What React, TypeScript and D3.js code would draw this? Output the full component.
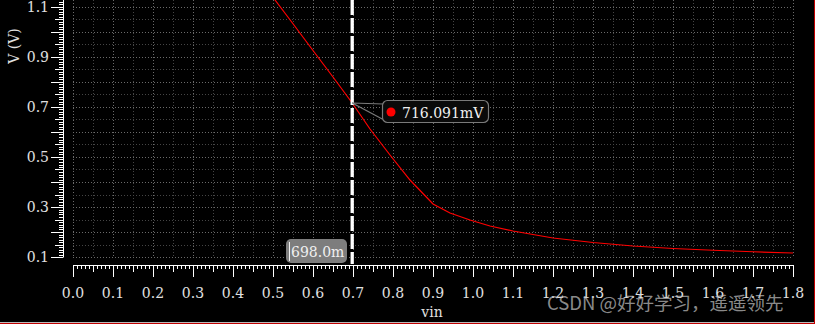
import React from "react";
import * as d3 from "d3";

const vin = [0.48, 0.505, 0.55, 0.6, 0.65, 0.698, 0.7425, 0.7925, 0.8425, 0.9, 0.9425, 0.9925, 1.0425, 1.1, 1.2, 1.3, 1.4, 1.5, 1.6, 1.7, 1.8];
const vout = [1.181, 1.128, 1.033, 0.926, 0.82, 0.716, 0.612, 0.508, 0.408, 0.312, 0.276, 0.248, 0.224, 0.204, 0.176, 0.158, 0.144, 0.134, 0.127, 0.121, 0.116];
const xTickLabels = ["0.0","0.1","0.2","0.3","0.4","0.5","0.6","0.7","0.8","0.9","1.0","1.1","1.2","1.3","1.4","1.5","1.6","1.7","1.8"];
const yTickLabels = ["0.1", "0.3", "0.5", "0.7", "0.9", "1.1"];
const cursorX = 0.698;
const cursorLabel = "698.0m";
const markerValue = 0.716091;
const markerLabel = "716.091mV";
const xTitle = "vin";
const yTitle = "V (V)";
const watermark = "CSDN @好好学习，遥遥领先";

const W = 815, H = 324;
const FONT = "'DejaVu Serif', serif";

export default function App() {
  const x = d3.scaleLinear().domain([0, 1.8]).range([73, 793]);
  const y = d3.scaleLinear().domain([0.1, 1.128]).range([257, 0]);
  const plotTop = 0, plotBottom = 257, plotLeft = 73, plotRight = 793;
  const xAxisY = 265, yAxisX = 63;

  const line = d3.line<number>().x((d, i) => x(vin[i])).y((d) => y(d));

  const xMinor = d3.range(0, 181).map((i) => i / 100);
  const yMinor = d3.range(10, 113).map((i) => i / 100);
  const xGrid = d3.range(0, 37).map((i) => i * 0.05);
  const yGrid = d3.range(2, 23).map((i) => i * 0.05);

  const px = x(cursorX);
  const py = y(markerValue);

  return (
    <svg width={W} height={H} style={{ position: "absolute", left: 0, top: 0, background: "#000" }}>
      <rect x={0} y={0} width={W} height={H} fill="#000" />
      <defs>
        <clipPath id="plotclip">
          <rect x={plotLeft} y={plotTop} width={plotRight - plotLeft + 1} height={plotBottom - plotTop + 1} />
        </clipPath>
      </defs>
      {/* grid */}
      {xGrid.map((v, i) => (
        <line key={"gx" + i} x1={Math.round(x(v)) + 0.5} x2={Math.round(x(v)) + 0.5} y1={plotTop} y2={plotBottom}
          stroke={i % 2 === 0 ? "#6a6a6a" : "#454545"} strokeDasharray="1 2" />
      ))}
      {yGrid.map((v, i) => (
        <line key={"gy" + i} x1={plotLeft} x2={plotRight} y1={Math.round(y(v)) + 0.5} y2={Math.round(y(v)) + 0.5}
          stroke={i % 2 === 0 ? "#6a6a6a" : "#454545"} strokeDasharray="1 2" />
      ))}
      {/* y axis */}
      <line x1={yAxisX + 0.5} x2={yAxisX + 0.5} y1={0} y2={y(0.1) + 0.5} stroke="#fff" />
      {yMinor.map((v, i) => {
        const k = Math.round(v * 100);
        const len = k % 10 === 0 ? 12 : k % 5 === 0 ? 8 : 4;
        const yy = Math.round(y(v)) + 0.5;
        return <line key={"yt" + i} x1={yAxisX - len} x2={yAxisX} y1={yy} y2={yy} stroke="#fff" />;
      })}
      {yTickLabels.map((t) => (
        <text key={"yl" + t} x={49} y={y(+t)} dy="0.36em" textAnchor="end" fill="#e0e0e0" fontFamily={FONT} fontSize={14}>{t}</text>
      ))}
      <text transform={`translate(19,46) rotate(-90)`} textAnchor="middle" fill="#e0e0e0" fontFamily={FONT} fontSize={14}>{yTitle}</text>
      {/* x axis */}
      <line x1={plotLeft} x2={plotRight + 1} y1={xAxisY + 0.5} y2={xAxisY + 0.5} stroke="#fff" />
      {xMinor.map((v, i) => {
        const len = i % 10 === 0 ? 12 : i % 5 === 0 ? 7 : 4;
        const xx = Math.round(x(v)) + 0.5;
        return <line key={"xt" + i} x1={xx} x2={xx} y1={xAxisY} y2={xAxisY + len} stroke="#fff" />;
      })}
      {xTickLabels.map((t) => (
        <text key={"xl" + t} x={x(+t)} y={298} textAnchor="middle" fill="#e0e0e0" fontFamily={FONT} fontSize={14}>{t}</text>
      ))}
      <text x={432} y={317} textAnchor="middle" fill="#e0e0e0" fontFamily={FONT} fontSize={14}>{xTitle}</text>
      {/* curve */}
      <path d={line(vout) || ""} fill="none" stroke="#ff0000" strokeWidth={1.2} clipPath="url(#plotclip)" />
      {/* cursor */}
      <line x1={px} x2={px} y1={0} y2={xAxisY - 1} stroke="#fff" strokeWidth={3.3} strokeDasharray="15 3" />
      <rect x={286} y={239} width={61} height={24} rx={5} fill="#7d7d7d" />
      <line x1={289.5} x2={289.5} y1={242} y2={261} stroke="#f0f0f0" />
      <text x={291} y={257} fill="#f0f0f0" fontFamily={FONT} fontSize={14}>{cursorLabel}</text>
      {/* marker label */}
      <path d={`M ${px + 31} ${py + 1} L ${px} ${py} L ${px + 30} ${py + 16}`} fill="none" stroke="#7a7a7a" strokeWidth={1.2} />
      <rect x={382.5} y={100.5} width={106} height={22} rx={5} fill="#0a0a0a" stroke="#7a7a7a" strokeWidth={1.2} />
      <circle cx={391} cy={112} r={4.5} fill="#ff0000" />
      <text x={402} y={118} fill="#f0f0f0" fontFamily={FONT} fontSize={14}>{markerLabel}</text>
      {/* watermark */}
      <text x={547} y={310} fill="rgba(200,200,200,0.7)" fontFamily="'Noto Sans CJK SC', 'Noto Sans', sans-serif" fontSize={18.5}>{watermark}</text>
      {/* frame */}
      <line x1={0} x2={W} y1={322.5} y2={322.5} stroke="#bbbbbb" />
      <line x1={0} x2={W} y1={323.5} y2={323.5} stroke="#c00000" />
      <line x1={814.5} x2={814.5} y1={0} y2={H} stroke="#c00000" />
    </svg>
  );
}
